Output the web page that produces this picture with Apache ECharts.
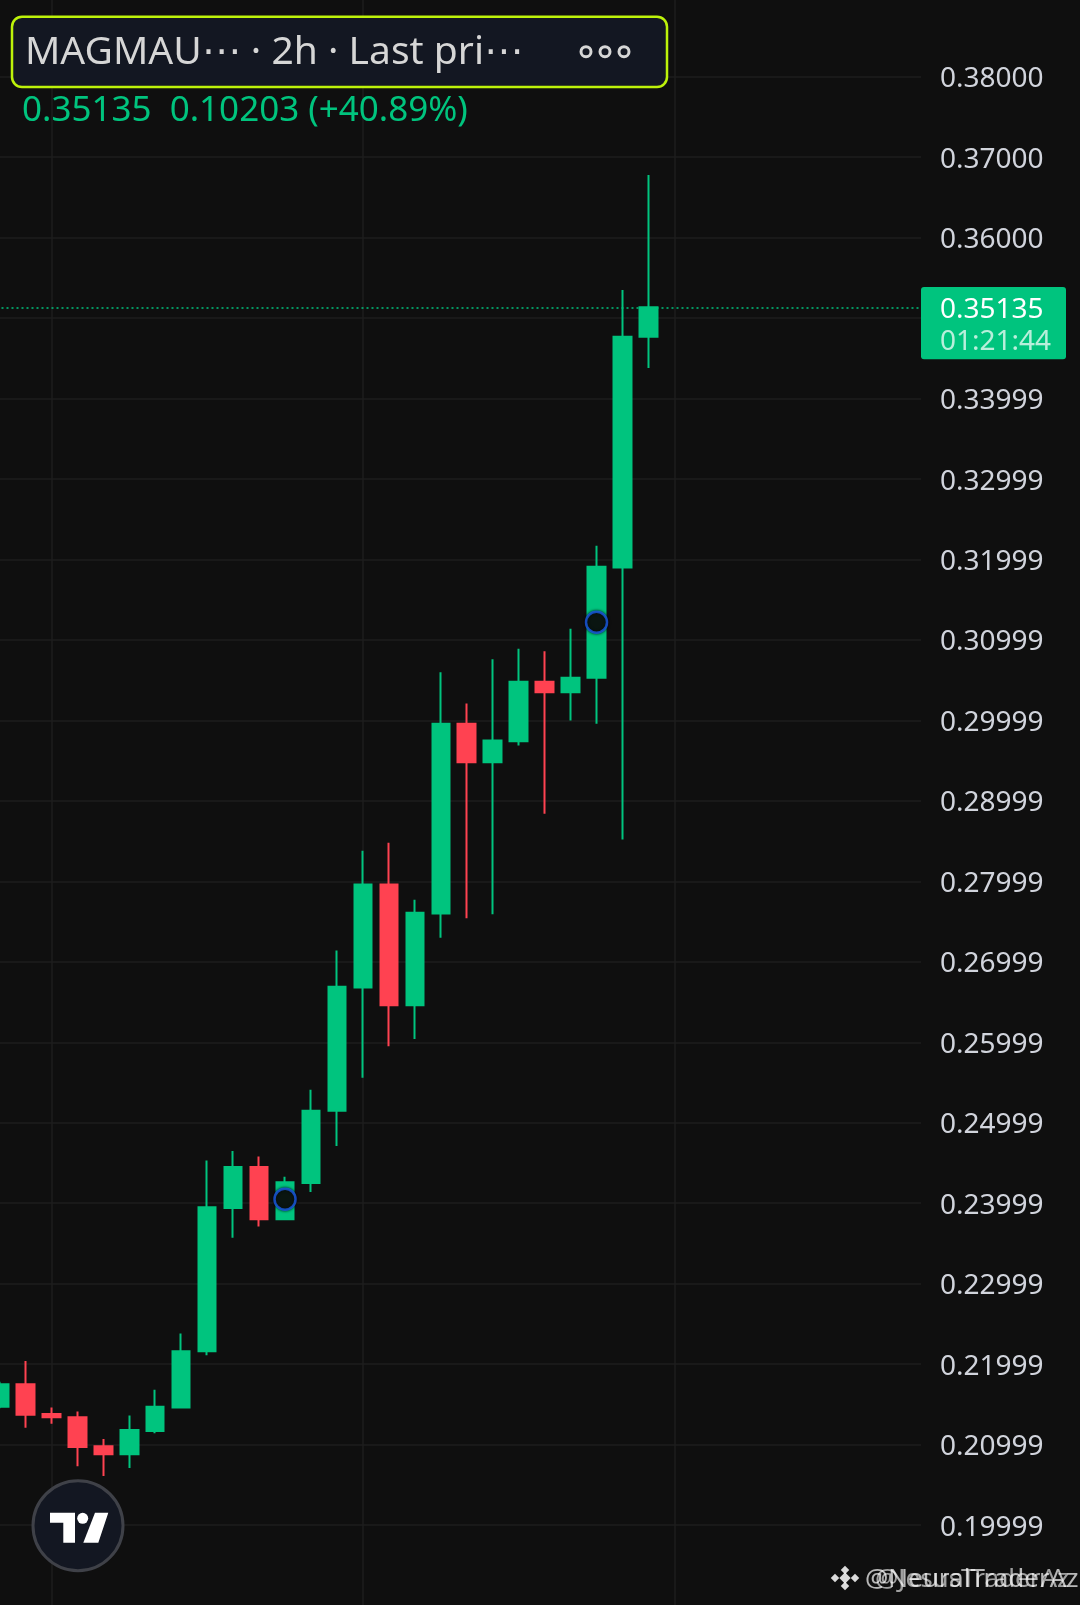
<!DOCTYPE html>
<html><head><meta charset="utf-8">
<script src="https://cdn.jsdelivr.net/npm/echarts@6/dist/echarts.min.js"></script>
<style>html,body{margin:0;padding:0;background:#0f0f0f;overflow:hidden}#c{width:1080px;height:1605px;}</style>
</head><body><div id="c"></div>
<script>
// ---- data ----
const slots = ['k01','k02','k03','k04','k05','k06','k07','k08','k09','k10','k11','k12','k13','k14','k15','k16','k17','k18','k19','k20','k21','k22','k23','k24','k25','k26','k27','k28','k29','k30','k31','k32','k33','k34','k35','k36'];
const opens  = [0.2147,0.2175,0.2138,0.2134,0.2098,0.2088,0.2117,0.2146,0.2216,0.2394,0.2445,0.2380,0.2425,0.2515,0.2668,0.2796,0.2646,0.2760,0.2996,0.2948,0.2974,0.3048,0.3035,0.3053,0.3190,0.3477];
const closes = [0.2175,0.2137,0.2134,0.2097,0.2088,0.2118,0.2147,0.2216,0.2395,0.2445,0.2380,0.2426,0.2515,0.2669,0.2796,0.2646,0.2761,0.2996,0.2948,0.2975,0.3048,0.3035,0.3053,0.3191,0.3477,0.35135];
const lows   = [0.2145,0.2121,0.2126,0.2073,0.2061,0.2071,0.2114,0.2146,0.2211,0.2357,0.2371,0.2380,0.2414,0.2471,0.2556,0.2595,0.2604,0.2730,0.2754,0.2759,0.2969,0.2884,0.3000,0.2996,0.2852,0.3438];
const highs  = [0.2178,0.2204,0.2146,0.2141,0.2107,0.2136,0.2168,0.2238,0.2453,0.2465,0.2458,0.2433,0.2541,0.2714,0.2838,0.2848,0.2777,0.3060,0.3021,0.3076,0.3089,0.3086,0.3114,0.3217,0.3535,0.3678];
const markerSlots  = ['k12','k24'];
const markerPrices = [0.2405,0.3122];
const gridSlots = ['k03','k15','k27'];
const tickValues = [0.38,0.37,0.36,0.35,0.34,0.33,0.32,0.31,0.30,0.29,0.28,0.27,0.26,0.25,0.24,0.23,0.22,0.21,0.20];
const tickLabels = ['0.38000','0.37000','0.36000','0.35000','0.33999','0.32999','0.31999','0.30999','0.29999','0.28999','0.27999','0.26999','0.25999','0.24999','0.23999','0.22999','0.21999','0.20999','0.19999'];
const titleText = 'MAGMAU\u22EF \u00B7 2h \u00B7 Last pri\u22EF';
const changeText = '0.35135  0.10203 (+40.89%)';
const lastPriceText = '0.35135';
const countdownText = '01:21:44';
const watermarkA = '@NeuralTraderAz';
const watermarkB = '@JesusTraderAz';

// ---- style ----
const UP = '#00c47e', DOWN = '#ff4251', BG = '#0f0f0f', GRIDC = '#1e1e1e', TXT = '#d1d4dc';
const FONT = '"Noto Sans", "DejaVu Sans", sans-serif';

const candleData = opens.map((o, i) => [o, closes[i], lows[i], highs[i]]);
const markerData = markerSlots.map((s, i) => [s, markerPrices[i]]);
const lastClose = closes[closes.length - 1];

const chart = echarts.init(document.getElementById('c'), null, {renderer: 'canvas'});
chart.setOption({
  backgroundColor: BG,
  animation: false,
  grid: {left: -13.5, right: 159, top: -3.7, bottom: -0.5, containLabel: false, outerBoundsMode: 'none'},
  xAxis: {
    type: 'category', data: slots, boundaryGap: true,
    axisLine: {show: false}, axisTick: {show: false}, axisLabel: {show: false}, splitLine: {show: false}
  },
  yAxis: {
    type: 'value', position: 'right', min: 0.19, max: 0.39, interval: 0.01,
    axisLine: {show: false}, axisTick: {show: false},
    splitLine: {show: true, lineStyle: {color: GRIDC, width: 1.5}},
    axisLabel: {
      margin: 19, color: TXT, fontSize: 28, fontFamily: FONT, align: 'left',
      rich: {a: {color: TXT, fontSize: 28, fontFamily: FONT, padding: [5, 0, 0, 0]}},
      formatter: v => { const i = tickValues.findIndex(t => Math.abs(t - v) < 1e-6); return i < 0 ? '' : '{a|' + tickLabels[i] + '}'; }
    }
  },
  series: [
    {
      type: 'line', data: [], z: 1, silent: true,
      markLine: {
        silent: true, symbol: ['none', 'none'], z: 1,
        label: {show: false},
        lineStyle: {color: GRIDC, width: 1.5, type: 'solid'},
        data: gridSlots.map(s => ({xAxis: s}))
      }
    },
    {
      type: 'candlestick', data: candleData, barWidth: 18, z: 3,
      itemStyle: {color: UP, color0: DOWN, borderColor: UP, borderColor0: DOWN, borderWidth: 2},
      markLine: {
        silent: true, symbol: ['none', 'none'], z: 4, precision: 6,
        label: {show: false},
        lineStyle: {color: UP, width: 1.5, type: [2, 3]},
        data: [{yAxis: lastClose}]
      }
    },
    {
      type: 'scatter', data: markerData, z: 5, symbol: 'circle', symbolSize: 21,
      itemStyle: {color: '#0c0c0c', borderColor: '#1a5ae6', borderWidth: 2.5, shadowColor: 'rgba(0,0,0,0.9)', shadowBlur: 3}
    }
  ]
});

const py = chart.convertToPixel({yAxisIndex: 0}, lastClose);

chart.setOption({
  graphic: [
    // header box
    {type: 'rect', shape: {x: 12, y: 16.7, width: 655, height: 70.3, r: 10}, style: {fill: '#131722', stroke: '#bdf20a', lineWidth: 2.5}, z: 100},
    {type: 'text', x: 25, y: 53, style: {text: titleText, fontSize: 39, fontFamily: FONT, fill: '#d6d6d6', verticalAlign: 'middle', align: 'left'}, z: 101},
    {type: 'circle', shape: {cx: 586, cy: 51.7, r: 5}, style: {fill: 'none', stroke: '#d6d6d6', lineWidth: 3}, z: 101},
    {type: 'circle', shape: {cx: 605, cy: 51.7, r: 5}, style: {fill: 'none', stroke: '#d6d6d6', lineWidth: 3}, z: 101},
    {type: 'circle', shape: {cx: 624, cy: 51.7, r: 5}, style: {fill: 'none', stroke: '#d6d6d6', lineWidth: 3}, z: 101},
    {type: 'text', x: 22, y: 111, style: {text: changeText, fontSize: 35, fontFamily: FONT, fill: UP, verticalAlign: 'middle', align: 'left'}, z: 101},
    // last price label
    {type: 'rect', shape: {x: 921, y: py - 20.3, width: 145, height: 72.3, r: 3}, style: {fill: UP}, z: 100},
    {type: 'text', x: 940, y: py + 3, style: {text: lastPriceText, fontSize: 28, fontFamily: FONT, fill: '#ffffff', verticalAlign: 'middle', align: 'left'}, z: 101},
    {type: 'text', x: 940, y: py + 35, style: {text: countdownText, fontSize: 28, fontFamily: FONT, fill: 'rgba(255,255,255,0.72)', verticalAlign: 'middle', align: 'left'}, z: 101},
    // TradingView logo
    {type: 'circle', shape: {cx: 78, cy: 1525.7, r: 45}, style: {fill: '#131722', stroke: '#3f4148', lineWidth: 3}, z: 100},
    {type: 'polygon', shape: {points: [[50,1512.7],[75,1512.7],[75,1542.7],[63.3,1542.7],[63.3,1522.7],[50,1522.7]]}, style: {fill: '#ffffff'}, z: 101},
    {type: 'circle', shape: {cx: 82.7, cy: 1518.3, r: 5.5}, style: {fill: '#ffffff'}, z: 101},
    {type: 'polygon', shape: {points: [[95,1512.7],[108.3,1512.7],[98.3,1542.7],[83.3,1542.7]]}, style: {fill: '#ffffff'}, z: 101},
    // watermark
    {type: 'group', x: 845, y: 1578, z: 100, children: [
      {type: 'rect', shape: {x: -4, y: -4, width: 8, height: 8}, rotation: Math.PI / 4, style: {fill: 'rgba(255,255,255,0.85)'}},
      {type: 'rect', shape: {x: -3, y: -3, width: 6, height: 6}, x: -10, rotation: Math.PI / 4, style: {fill: 'rgba(255,255,255,0.85)'}},
      {type: 'rect', shape: {x: -3, y: -3, width: 6, height: 6}, x: 10, rotation: Math.PI / 4, style: {fill: 'rgba(255,255,255,0.85)'}},
      {type: 'rect', shape: {x: -3, y: -3, width: 6, height: 6}, y: -8, rotation: Math.PI / 4, style: {fill: 'rgba(255,255,255,0.85)'}},
      {type: 'rect', shape: {x: -3, y: -3, width: 6, height: 6}, y: 8, rotation: Math.PI / 4, style: {fill: 'rgba(255,255,255,0.85)'}}
    ]},
    {type: 'text', x: 865, y: 1580, style: {text: watermarkA, fontSize: 26, fontFamily: FONT, fill: 'rgba(255,255,255,0.7)', verticalAlign: 'middle', align: 'left'}, z: 101},
    {type: 'text', x: 875, y: 1580, style: {text: watermarkB, fontSize: 26, fontFamily: FONT, fill: 'rgba(255,255,255,0.6)', verticalAlign: 'middle', align: 'left'}, z: 101}
  ]
});
</script>
</body></html>
